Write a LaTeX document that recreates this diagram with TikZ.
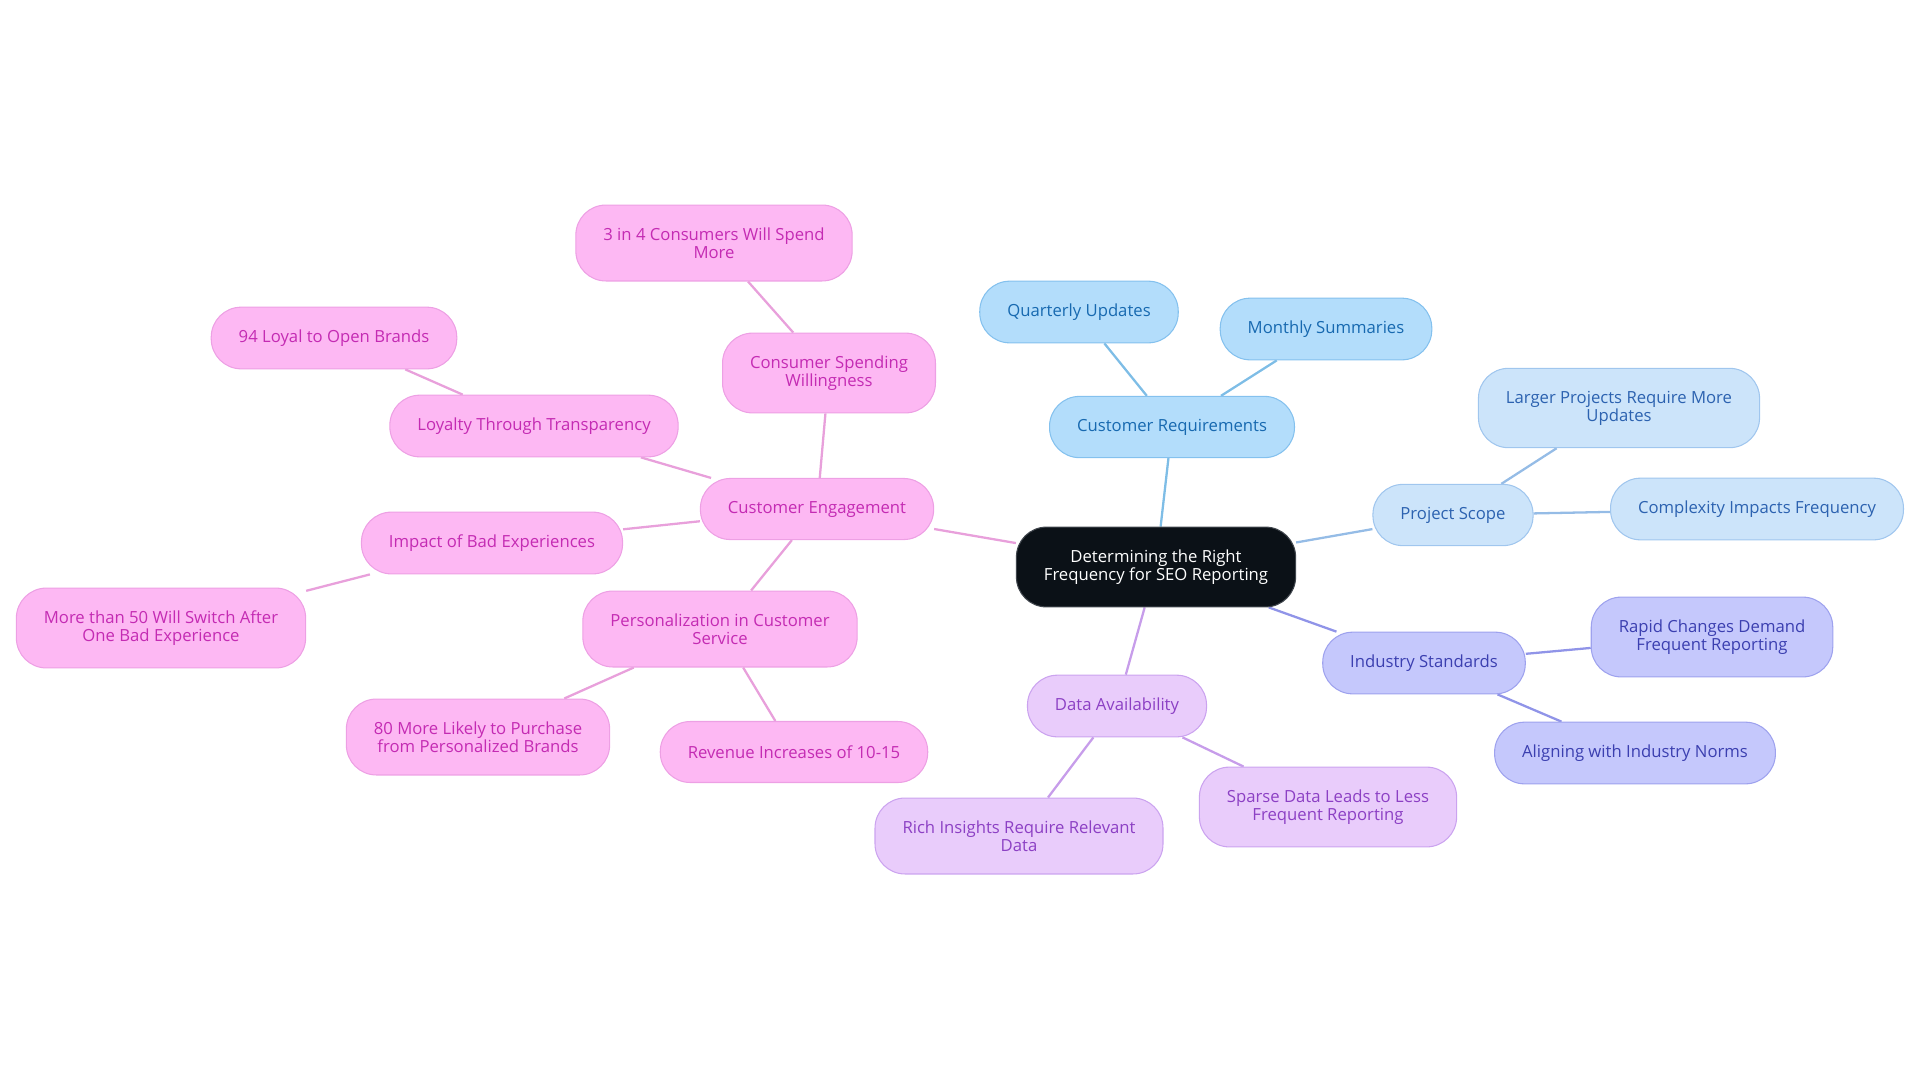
\documentclass[tikz,border=0pt]{standalone}
\usepackage{fontspec}
\setmainfont{Open Sans}
\usepackage{xcolor}
\usetikzlibrary{positioning,backgrounds}
\definecolor{rootfill}{HTML}{0B1117}
\definecolor{rootline}{HTML}{40464D}
\definecolor{reqfill}{HTML}{B3DDFB}
\definecolor{reqline}{HTML}{84C1EE}
\definecolor{reqtext}{HTML}{1769B0}
\definecolor{reqedge}{HTML}{7EBDE6}
\definecolor{scopefill}{HTML}{CCE4FA}
\definecolor{scopeline}{HTML}{A0C6EE}
\definecolor{scopetext}{HTML}{2C62B0}
\definecolor{scopeedge}{HTML}{95BCE6}
\definecolor{indfill}{HTML}{C5C8FC}
\definecolor{indline}{HTML}{9EA2EE}
\definecolor{indtext}{HTML}{3B3FB0}
\definecolor{indedge}{HTML}{9094E8}
\definecolor{datafill}{HTML}{E9CCFB}
\definecolor{dataline}{HTML}{CBA3EF}
\definecolor{datatext}{HTML}{8C40C4}
\definecolor{dataedge}{HTML}{C79DEA}
\definecolor{engfill}{HTML}{FDB8F3}
\definecolor{engline}{HTML}{EDA0E4}
\definecolor{engtext}{HTML}{C42BB3}
\definecolor{engedge}{HTML}{E8A0DB}

\tikzset{
  idea/.style={rounded corners=0.6cm, align=center, inner xsep=0.55cm, inner ysep=0.45cm,
    minimum height=1.22cm, line width=0.6pt, font=\fontsize{9.5}{10.3}\selectfont},
  rootidea/.style={idea, draw=rootline, fill=rootfill, text=white, minimum height=1.58cm},
  req/.style={idea, draw=reqline, fill=reqfill, text=reqtext},
  scope/.style={idea, draw=scopeline, fill=scopefill, text=scopetext},
  ind/.style={idea, draw=indline, fill=indfill, text=indtext},
  data/.style={idea, draw=dataline, fill=datafill, text=datatext},
  eng/.style={idea, draw=engline, fill=engfill, text=engtext},
  link/.style={line width=1.3pt}
}

\begin{document}
\begin{tikzpicture}[x=0.02cm, y=-0.02cm]
  \useasboundingbox (0,0) rectangle (1920,1083);

  % root
  \node[rootidea] (root) at (1156,567) {Determining the Right\\Frequency for SEO Reporting};

  % customer requirements
  \node[req] (req) at (1172,427) {Customer Requirements};
  \node[req] (quarter) at (1079,312) {Quarterly Updates};
  \node[req] (month) at (1326,329) {Monthly Summaries};

  % project scope
  \node[scope] (scope) at (1453,515) {Project Scope};
  \node[scope] (larger) at (1619,408) {Larger Projects Require More\\Updates};
  \node[scope] (complex) at (1757,509) {Complexity Impacts Frequency};

  % industry standards
  \node[ind] (ind) at (1424,663) {Industry Standards};
  \node[ind] (rapid) at (1712,637) {Rapid Changes Demand\\Frequent Reporting};
  \node[ind] (norms) at (1635,753) {Aligning with Industry Norms};

  % data availability
  \node[data] (data) at (1117,706) {Data Availability};
  \node[data] (rich) at (1019,836) {Rich Insights Require Relevant\\Data};
  \node[data] (sparse) at (1328,807) {Sparse Data Leads to Less\\Frequent Reporting};

  % customer engagement
  \node[eng] (eng) at (817,509) {Customer Engagement};
  \node[eng] (spend) at (829,373) {Consumer Spending\\Willingness};
  \node[eng] (three) at (714,243) {3 in 4 Consumers Will Spend\\More};
  \node[eng] (loyal) at (534,426) {Loyalty Through Transparency};
  \node[eng] (open) at (334,338) {94 Loyal to Open Brands};
  \node[eng] (bad) at (492,543) {Impact of Bad Experiences};
  \node[eng] (switch) at (161,628) {More than 50 Will Switch After\\One Bad Experience};
  \node[eng] (person) at (720,629) {Personalization in Customer\\Service};
  \node[eng] (likely) at (478,737) {80 More Likely to Purchase\\from Personalized Brands};
  \node[eng] (revenue) at (794,752) {Revenue Increases of 10-15};

  % links
  \begin{scope}[on background layer]
    \draw[link, reqedge] (root) -- (req);
    \draw[link, reqedge] (req) -- (quarter);
    \draw[link, reqedge] (req) -- (month);
    \draw[link, scopeedge] (root) -- (scope);
    \draw[link, scopeedge] (scope) -- (larger);
    \draw[link, scopeedge] (scope) -- (complex);
    \draw[link, indedge] (root) -- (ind);
    \draw[link, indedge] (ind) -- (rapid);
    \draw[link, indedge] (ind) -- (norms);
    \draw[link, dataedge] (root) -- (data);
    \draw[link, dataedge] (data) -- (rich);
    \draw[link, dataedge] (data) -- (sparse);
    \draw[link, engedge] (root) -- (eng);
    \draw[link, engedge] (eng) -- (spend);
    \draw[link, engedge] (spend) -- (three);
    \draw[link, engedge] (eng) -- (loyal);
    \draw[link, engedge] (loyal) -- (open);
    \draw[link, engedge] (eng) -- (bad);
    \draw[link, engedge] (bad) -- (switch);
    \draw[link, engedge] (eng) -- (person);
    \draw[link, engedge] (person) -- (likely);
    \draw[link, engedge] (person) -- (revenue);
  \end{scope}
\end{tikzpicture}
\end{document}
